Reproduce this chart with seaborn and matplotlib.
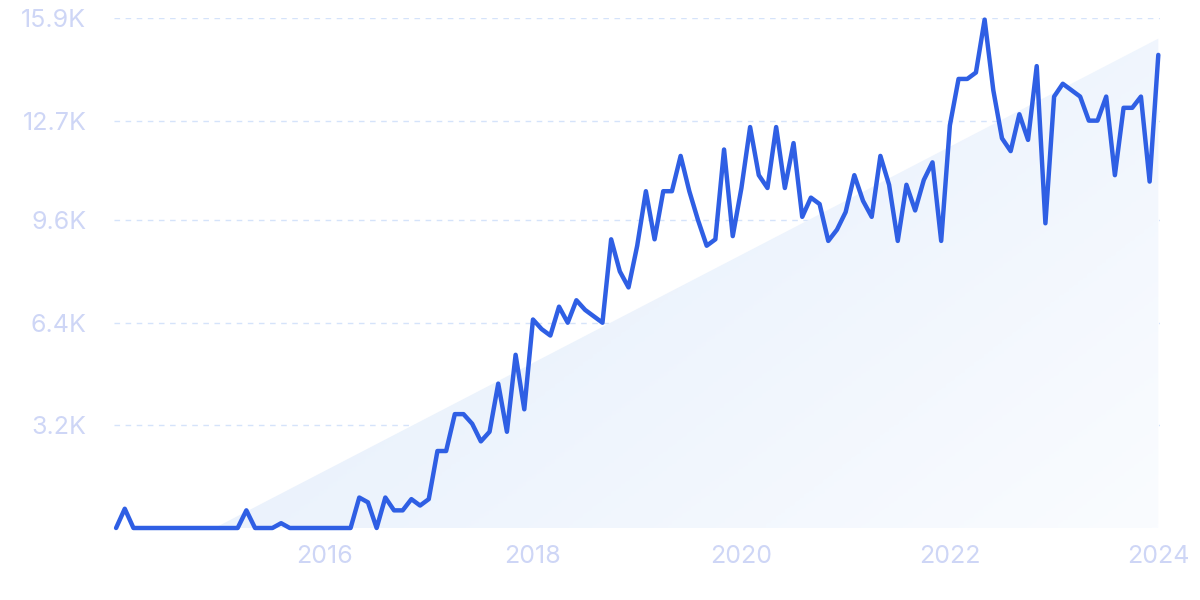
import numpy as np
import pandas as pd
import matplotlib
matplotlib.use('Agg')
import matplotlib.pyplot as plt
import seaborn as sns
from matplotlib.patches import Polygon

# Monthly values (thousands), Jan 2014 .. Jan 2024
values_2014 = [0, 0.6, 0, 0, 0, 0, 0, 0, 0, 0, 0, 0]
values_2015 = [0, 0, 0, 0.55, 0, 0, 0, 0.15, 0, 0, 0, 0]
values_2016 = [0, 0, 0, 0, 0.95, 0.8, 0, 0.95, 0.55, 0.55, 0.9, 0.7]
values_2017 = [0.9, 2.4, 2.4, 3.55, 3.55, 3.25, 2.7, 3.0, 4.5, 3.0, 5.4, 3.7]
values_2018 = [6.5, 6.2, 6.0, 6.9, 6.4, 7.1, 6.8, 6.6, 6.4, 9.0, 8.0, 7.5]
values_2019 = [8.8, 10.5, 9.0, 10.5, 10.5, 11.6, 10.5, 9.6, 8.8, 9.0, 11.8, 9.1]
values_2020 = [10.6, 12.5, 11.0, 10.6, 12.5, 10.6, 12.0, 9.7, 10.3, 10.1, 8.95, 9.3]
values_2021 = [9.85, 11.0, 10.2, 9.7, 11.6, 10.7, 8.95, 10.7, 9.9, 10.85, 11.4, 8.95]
values_2022 = [12.55, 14.0, 14.0, 14.2, 15.85, 13.65, 12.15, 11.75, 12.9, 12.1, 14.4, 9.5]
values_2023 = [13.45, 13.85, 13.65, 13.45, 12.7, 12.7, 13.45, 11.0, 13.1, 13.1, 13.45, 10.8]
values_2024 = [14.75]

values = (values_2014 + values_2015 + values_2016 + values_2017 + values_2018 + values_2019
          + values_2020 + values_2021 + values_2022 + values_2023 + values_2024)
dates = pd.date_range('2014-01-01', periods=len(values), freq='MS')

y_ticks = [3.2, 6.4, 9.6, 12.7, 15.9]
y_labels = ['3.2K', '6.4K', '9.6K', '12.7K', '15.9K']
x_years = [2016, 2018, 2020, 2022, 2024]

df = pd.DataFrame({'t': dates.year + (dates.month - 1) / 12, 'v': values})

sns.set_style('white')
plt.rcParams['font.family'] = ['Inter', 'DejaVu Sans']

fig = plt.figure(figsize=(12, 6), dpi=100)
ax = fig.add_axes([0.095, 0.12, 0.872, 0.85])

# trend area (linear fit, clipped at zero) with gradient fill
slope, icpt = np.polyfit(df['t'], df['v'], 1)
t0 = -icpt / slope
t1 = df['t'].iloc[-1]
v1 = slope * t1 + icpt
tri = Polygon([[t0, 0], [t1, v1], [t1, 0]], closed=True, facecolor='none', edgecolor='none')
ax.add_patch(tri)
gx, gy = np.meshgrid(np.linspace(0, 1, 200), np.linspace(0, 1, 200))
grad = 0.6 * gx + 0.4 * (1 - gy)
cmap = matplotlib.colors.LinearSegmentedColormap.from_list('g', ['#E1ECFB', '#FAFCFF'])
im = ax.imshow(grad, extent=[t0, t1, 0, v1], origin='lower', cmap=cmap, aspect='auto', zorder=1)
im.set_clip_path(tri)

sns.lineplot(data=df, x='t', y='v', ax=ax, color='#2F5FE4', linewidth=3.2, zorder=3,
             clip_on=False)

ax.set_xlim(2013.98, 2024.02)
ax.set_ylim(0, 15.9)
ax.set_yticks(y_ticks)
ax.set_yticklabels(y_labels)
ax.set_xticks(x_years)
ax.set_xticklabels([str(y) for y in x_years])
for y in y_ticks:
    ax.axhline(y, color='#D5E3FA', linestyle=(0, (4, 4)), linewidth=1, zorder=0)
ax.tick_params(axis='both', length=0, labelsize=18, labelcolor='#CED6F6')
ax.tick_params(axis='x', pad=12)
ax.tick_params(axis='y', pad=20)
for s in ax.spines.values():
    s.set_visible(False)
ax.set_xlabel('')
ax.set_ylabel('')
ax.grid(False)

fig.savefig('out.png', dpi=100)
